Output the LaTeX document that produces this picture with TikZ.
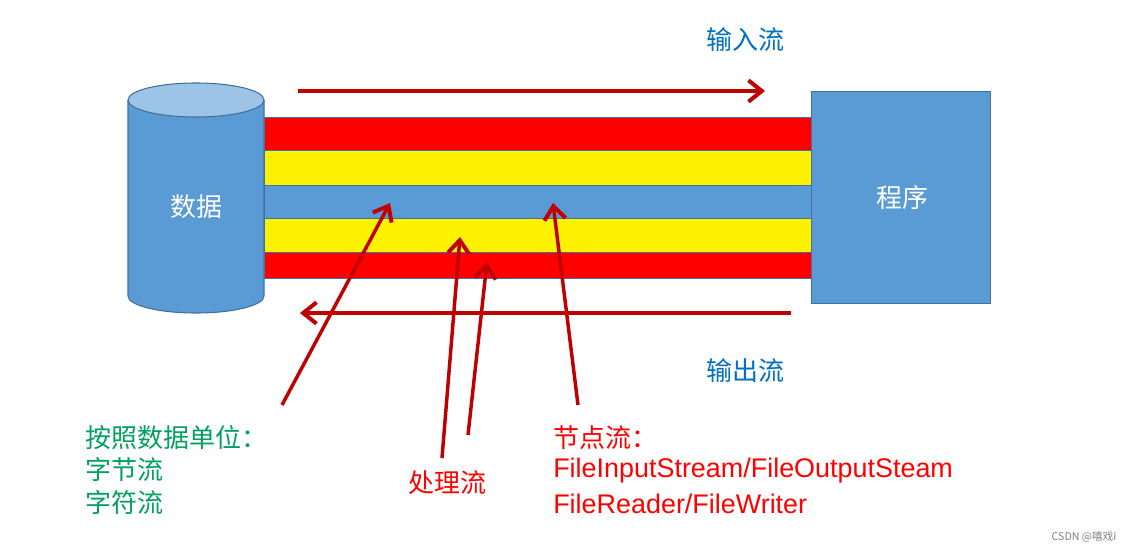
\documentclass[tikz,border=0pt]{standalone}
\usepackage{fontspec}
\setmainfont{Liberation Sans}
\newfontfamily\cjk{Noto Sans CJK SC}
\usetikzlibrary{arrows.meta}
\definecolor{bl}{HTML}{5B9BD5}
\definecolor{bll}{HTML}{9DC3E6}
\definecolor{bd}{HTML}{41719C}
\definecolor{dr}{HTML}{C00000}
\definecolor{tb}{HTML}{0070C0}
\definecolor{gr}{HTML}{00A060}
\tikzset{
 band/.style={draw=bd,line width=0.6pt},
 redarr/.style={draw=dr,line width=3.2pt,-{Straight Barb[length=10pt,width=16pt,line width=3pt]}},
 lbl/.style={font=\fontsize{19.5}{23}\selectfont\cjk,inner sep=0pt},
 lat/.style={font=\fontsize{20.2}{24}\selectfont},
}
\begin{document}
\begin{tikzpicture}[x=0.75pt,y=-0.75pt]
\useasboundingbox[fill=white] (0,0) rectangle (1139,553);
% bands
\draw[band,fill=red] (264,117) rectangle (811,150);
\draw[band,fill=yellow] (264,150) rectangle (811,185);
\draw[band,fill=bl] (264,185) rectangle (811,218);
\draw[band,fill=yellow] (264,218) rectangle (811,252);
\draw[band,fill=red] (264,252) rectangle (811,278);
% cylinder
\draw[bd,line width=0.8pt,fill=bl] (128,100) -- (128,296) arc[start angle=180,end angle=0,x radius=68,y radius=17] -- (264,100);
\draw[bd,line width=0.8pt,fill=bll] (196,100) ellipse[x radius=68,y radius=17];
\node[lbl,text=white] (data) at (196,207) {数据};
% program
\node[draw=bd,line width=0.8pt,fill=bl,minimum width=179*0.75pt,minimum height=212*0.75pt,anchor=north west] (prog) at (811,91) {};
\node[lbl,text=white] (progt) at (902,198) {程序};
% arrows
\coordinate (a1) at (298,91); \coordinate (a2) at (765,91);
\draw[redarr] (a1) -- (a2);
\coordinate (b1) at (791,313); \coordinate (b2) at (300,313);
\draw[redarr] (b1) -- (b2);
\node[lbl,text=tb] (in) at (745,40) {输入流};
\node[lbl,text=tb] (out) at (745,371) {输出流};
\coordinate (p1) at (282,405); \coordinate (q1) at (390,203);
\coordinate (p2) at (442,458); \coordinate (q2) at (460,237);
\coordinate (p3) at (468,435); \coordinate (q3) at (487,262);
\coordinate (p4) at (578,405); \coordinate (q4) at (553,203);
\foreach \i in {1,2,3,4}{\draw[redarr,line width=2.6pt] (p\i) -- (q\i);}
% labels
\node[lbl,text=gr,anchor=west] (g1) at (85,438) {按照数据单位：};
\node[lbl,text=gr,anchor=west] (g2) at (85,470) {字节流};
\node[lbl,text=gr,anchor=west] (g3) at (85,503) {字符流};
\node[lbl,text=red] (proc) at (447,483) {处理流};
\node[lbl,text=red,anchor=west] (n1) at (553,438) {节点流：};
\node[lbl,lat,text=red,anchor=west] (n2) at (553,471) {FileInputStream/FileOutputSteam};
\node[lbl,lat,text=red,anchor=west] (n3) at (553,504) {FileReader/FileWriter};
\node[text=gray,inner sep=0pt,font=\fontsize{8}{10}\selectfont\cjk] (csdn) at (1084,537) {CSDN @嘻戏i};
\end{tikzpicture}
\end{document}
